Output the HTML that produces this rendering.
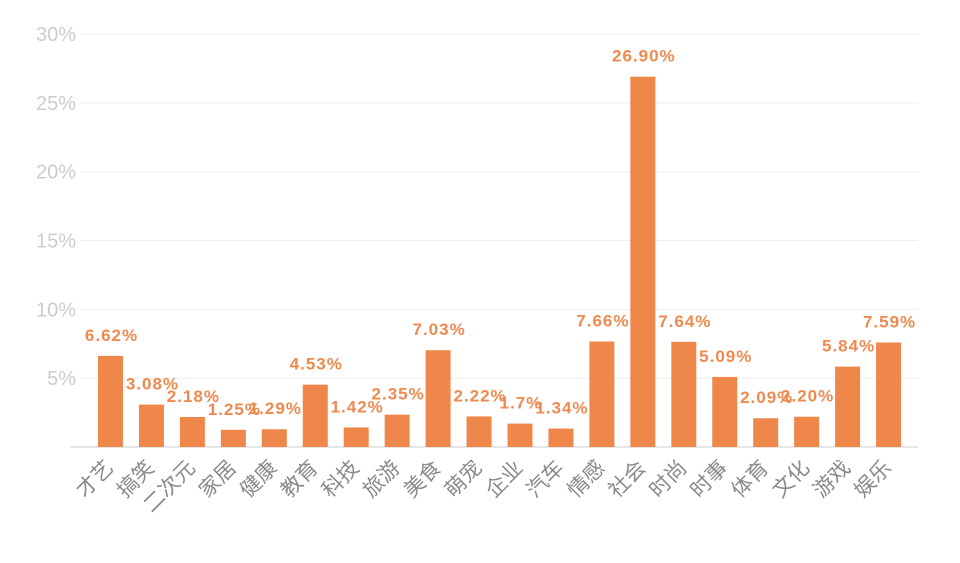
<!DOCTYPE html>
<html><head><meta charset="utf-8"><style>
body{margin:0;background:#fff;}
svg{display:block;font-family:"Liberation Sans","Noto Sans CJK SC",sans-serif;}
</style></head><body>
<svg id="chart" width="960" height="563" viewBox="0 0 960 563"></svg>
<script>
const categories=["才艺","搞笑","二次元","家居","健康","教育","科技","旅游","美食","萌宠","企业","汽车","情感","社会","时尚","时事","体育","文化","游戏","娱乐"];
const values=[6.62,3.08,2.18,1.25,1.29,4.53,1.42,2.35,7.03,2.22,1.7,1.34,7.66,26.90,7.64,5.09,2.09,2.20,5.84,7.59];
const valueLabels=["6.62%","3.08%","2.18%","1.25%","1.29%","4.53%","1.42%","2.35%","7.03%","2.22%","1.7%","1.34%","7.66%","26.90%","7.64%","5.09%","2.09%","2.20%","5.84%","7.59%"];
const yTicks=[5,10,15,20,25,30];
const yTickLabels=["5%","10%","15%","20%","25%","30%"];
const NS="http://www.w3.org/2000/svg";
const svg=document.getElementById('chart');
const y0=447,pxPer=(447-34)/30;
function y(v){return y0-v*pxPer;}
function x(i){return 110.5+i*40.95;}
function mk(t,a){const e=document.createElementNS(NS,t);for(const k in a)e.setAttribute(k,a[k]);svg.appendChild(e);return e;}
yTicks.forEach((t,i)=>{
  const g=mk('line',{x1:80,x2:918,y1:y(t),y2:y(t),stroke:'#eeeeee','stroke-width':1});
  
  
  const l=mk('text',{x:76,y:y(t)+7,'text-anchor':'end','font-size':20,fill:'#cccccc'});
  l.textContent=yTickLabels[i];
  
  
});
const ax=mk('line',{x1:70,x2:918,y1:y0,y2:y0,stroke:'#dddddd','stroke-width':1.5});


values.forEach((v,i)=>{
  const b=mk('rect',{x:x(i)-12.5,y:y(v),width:25,height:y0-y(v),fill:'#f0874a'});
  
  
  const t=mk('text',{x:x(i)+1,y:y(v)-15,'text-anchor':'middle','font-size':17,'font-weight':'bold',fill:'#ef8a4f','letter-spacing':'1'});
  t.textContent=valueLabels[i];
  
  
  const c=mk('text',{x:0,y:0,'text-anchor':'end','font-size':21,fill:'#8a8a8a',transform:`translate(${x(i)+4},${y0+22}) rotate(-45)`});
  c.textContent=categories[i];
  
  
});
</script>
</body></html>
